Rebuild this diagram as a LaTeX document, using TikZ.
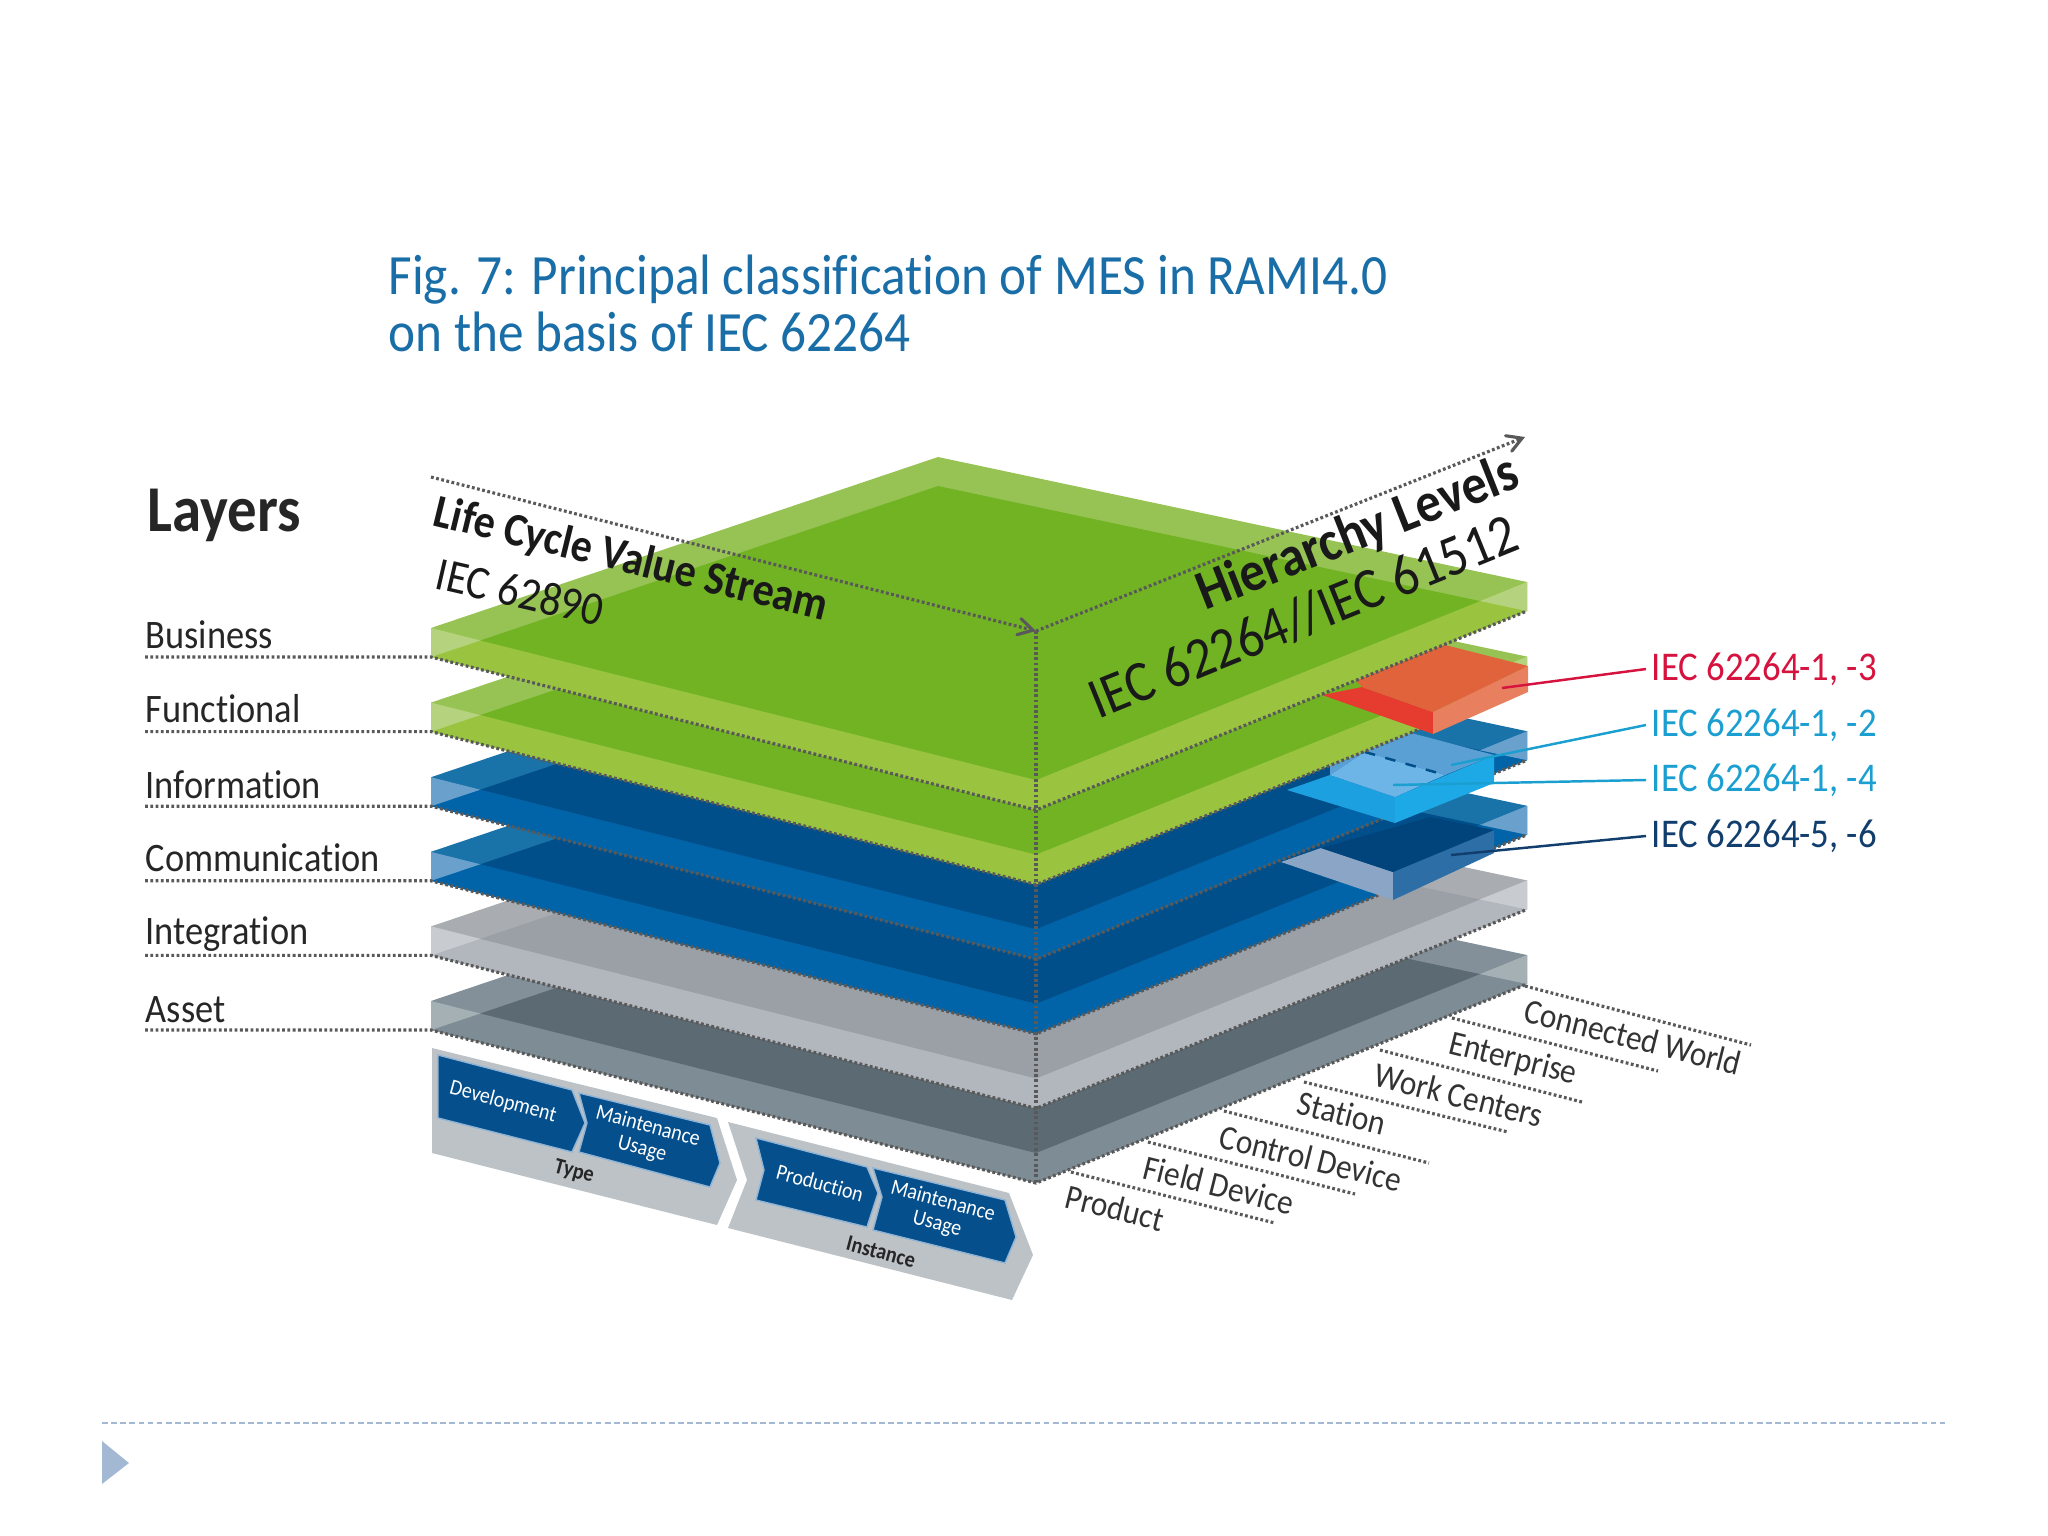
\documentclass[tikz,border=0pt]{standalone}
\usepackage{fontspec}
\setmainfont{Carlito}[FakeStretch=0.9, Ligatures=NoCommon]
\usetikzlibrary{arrows}

\definecolor{greenback}{HTML}{97C355}
\definecolor{greenfront}{HTML}{9AC43F}
\definecolor{greendark}{HTML}{72B324}
\definecolor{greentip}{HTML}{B5D37F}
\definecolor{blueback}{HTML}{1A73A8}
\definecolor{bluefront}{HTML}{0264A8}
\definecolor{bluedark}{HTML}{014F8A}
\definecolor{bluetip}{HTML}{6AA1CC}
\definecolor{grayback}{HTML}{A9ADB2}
\definecolor{grayfront}{HTML}{B2B7BE}
\definecolor{graydark}{HTML}{9AA0A6}
\definecolor{graytip}{HTML}{C8CCD0}
\definecolor{assetback}{HTML}{83909A}
\definecolor{assetfront}{HTML}{7E8D95}
\definecolor{assetdark}{HTML}{5C6B73}
\definecolor{assettip}{HTML}{A5B0B5}
\definecolor{titleblue}{HTML}{1A6EA8}
\definecolor{phase}{HTML}{054F8C}
\definecolor{phaseedge}{HTML}{8FB4D6}
\definecolor{phasebase}{HTML}{BCC2C6}
\definecolor{navyleft}{HTML}{8BA5C6}
\definecolor{navyright}{HTML}{2E6EA6}
\definecolor{navytop}{HTML}{01447C}
\definecolor{skyleft}{HTML}{1CA0DF}
\definecolor{skyright}{HTML}{1DA8E6}
\definecolor{skyback}{HTML}{5BA0D4}
\definecolor{skyfront}{HTML}{6DB5E6}
\definecolor{redleft}{HTML}{E63C2F}
\definecolor{redright}{HTML}{E88060}
\definecolor{redtop}{HTML}{E0633B}
\definecolor{stdred}{HTML}{D6123E}
\definecolor{stdsky}{HTML}{1A9FD0}
\definecolor{stdnavy}{HTML}{123E6E}
\definecolor{footer}{HTML}{A3B8D2}

\tikzstyle{dotline}    = [draw=black!65, line width=0.9pt, dash pattern=on 0.8pt off 0.7pt]
\tikzstyle{layername}  = [anchor=west, inner sep=0pt, font=\fontsize{11.5}{13}\selectfont, text=black!85]
\tikzstyle{levelname}  = [inner sep=0pt, rotate=-14, font=\fontsize{9.9}{12}\selectfont, text=black!80]
\tikzstyle{stdname}    = [anchor=west, inner sep=0pt, outer sep=1.7pt, font=\fontsize{11.6}{13}\selectfont]
\tikzstyle{axisname}   = [anchor=base west, inner sep=0pt, font=\bfseries\fontsize{13.3}{15}\selectfont, text=black!90]
\tikzstyle{axisstd}    = [anchor=base west, inner sep=0pt, font=\fontsize{13.4}{15}\selectfont, text=black!90]
\tikzstyle{phasebox}   = [fill=phase, draw=phaseedge, line width=0.4pt]
\tikzstyle{phasename}  = [inner sep=0pt, rotate=-15, align=center, text=white, font=\fontsize{6.3}{6.6}\selectfont]
\tikzstyle{basename}   = [inner sep=0pt, rotate=-15, text=black!85, font=\bfseries\fontsize{6.4}{7}\selectfont]

% one translucent plate: #1 offset, #2 back, #3 front, #4 inner, #5 corners, #6 label
\newcommand{\layerplate}[6]{
\begin{scope}[shift={(0,#1)}]
\coordinate (Lt) at (431,628);
\coordinate (Bt) at (938,457);
\coordinate (Rt) at (1527,582);
\coordinate (Ft) at (1036,780);
\coordinate (Lb) at (431,657);
\coordinate (Bb) at (938,486);
\coordinate (Rb) at (1527,611);
\coordinate (Fb) at (1036,810);
\coordinate (Xl) at (intersection of Lb--Bb and Lt--Ft);
\coordinate (Xr) at (intersection of Rb--Bb and Rt--Ft);
\fill [#2] (Lt) -- (Bt) -- (Rt) -- (Rb) -- (Fb) -- (Lb) -- cycle;
\fill [#3] (Lt) -- (Ft) -- (Rt) -- (Rb) -- (Fb) -- (Lb) -- cycle;
\fill [#4] (Bb) -- (Xl) -- (Ft) -- (Xr) -- cycle;
\fill [#5] (Lt) -- (Xl) -- (Lb) -- cycle;
\fill [#5] (Rt) -- (Xr) -- (Rb) -- cycle;
\draw [dotline] (#6.west |- Lb) -- (Lb) -- (Fb) -- (Rb);
\end{scope}
}

\begin{document}
\begin{tikzpicture}[x=0.01cm, y=-0.01cm]
\useasboundingbox (0,0) rectangle (2048,1536);

% title
\node [anchor=west, inner sep=0pt, align=left, text=titleblue,
       font=\fontsize{16.2}{16.2}\selectfont] (title) at (388,303)
      {Fig. 7: Principal classification of MES in RAMI4.0\\on the basis of IEC 62264};

% layer names
\node [anchor=west, inner sep=0pt, font=\bfseries\fontsize{18.6}{20}\selectfont, text=black!85] (layers) at (147,515) {Layers};
\node [layername] (business)      at (145,635) {Business};
\node [layername] (functional)    at (145,709) {Functional};
\node [layername] (information)   at (145,785) {Information};
\node [layername] (communication) at (145,858) {Communication};
\node [layername] (integration)   at (145,934) {Integration};
\node [layername] (asset)         at (145,1010) {Asset};

% level lines
\coordinate (prodA)  at (1071,1172); \coordinate (prodB)  at (1275,1223);
\coordinate (fieldA) at (1148,1142); \coordinate (fieldB) at (1355,1194);
\coordinate (ctrlA)  at (1224,1111); \coordinate (ctrlB)  at (1429,1163);
\coordinate (statA)  at (1304,1082); \coordinate (statB)  at (1508,1132);
\coordinate (workA)  at (1380,1050); \coordinate (workB)  at (1582,1102);
\coordinate (entA)   at (1452,1018); \coordinate (entB)   at (1658,1071);
\coordinate (connA)  at (1525,986);  \coordinate (connB)  at (1751,1045);
\foreach \a/\b in {prodA/prodB, fieldA/fieldB, ctrlA/ctrlB, statA/statB, workA/workB, entA/entB, connA/connB}
  \draw [dotline] (\a) -- (\b);

% plates, bottom one first
\layerplate{373}{assetback}{assetfront}{assetdark}{assettip}{asset}
\layerplate{298.4}{grayback}{grayfront}{graydark}{graytip}{integration}
\layerplate{223.8}{blueback}{bluefront}{bluedark}{bluetip}{communication}

% box on communication
\fill [fill=navyleft]  (1281,862) -- (1321,848) -- (1393,872) -- (1393,900) -- cycle;
\fill [fill=navyright] (1393,872) -- (1494,830) -- (1494,853) -- (1393,900) -- cycle;
\fill [fill=navytop]   (1321,848) -- (1430,817) -- (1494,830) -- (1393,872) -- cycle;

\layerplate{149.2}{blueback}{bluefront}{bluedark}{bluetip}{information}

% box on information
\fill [fill=skyleft]  (1287,790) -- (1330,775) -- (1395,797) -- (1395,823) -- cycle;
\fill [fill=skyright] (1395,797) -- (1494,755) -- (1494,783) -- (1395,823) -- cycle;
\fill [fill=skyback]  (1330,775) -- (1330,750) -- (1400,730) -- (1494,755) -- (1445,775) -- (1365,752) -- cycle;
\fill [fill=skyfront] (1330,775) -- (1365,752) -- (1445,775) -- (1395,797) -- cycle;
\coordinate (skyA) at (1365,752);
\coordinate (skyB) at (1445,775);
\draw [draw=bluedark, line width=0.7pt, dashed] (skyA) -- (skyB);

\layerplate{74.6}{greenback}{greenfront}{greendark}{greentip}{functional}

% box on functional
\fill [fill=redleft]  (1322,695) -- (1362,687) -- (1433,712) -- (1433,734) -- cycle;
\fill [fill=redright] (1433,712) -- (1528,666) -- (1528,692) -- (1433,734) -- cycle;
\fill [fill=redtop]   (1362,687) -- (1340,665) -- (1445,645) -- (1528,666) -- (1433,712) -- cycle;

\layerplate{0}{greenback}{greenfront}{greendark}{greentip}{business}

% axes
\coordinate (corner)   at (1036,631);
\coordinate (lifeend)  at (431,477);
\coordinate (hierend)  at (1525,437);
\coordinate (downend)  at (1036,1183);
\draw [dotline, -angle 60] (lifeend) -- (corner);
\draw [dotline, -angle 60] (corner) -- (hierend);
\draw [dotline] (corner) -- (downend);

% axis names
\node [axisname, rotate=-13.7] (lifename) at (431,525) {Life Cycle Value Stream};
\node [axisstd,  rotate=-13]   (lifestd)  at (433,588) {IEC 62890};
\node [axisname, rotate=21.5, font=\bfseries\fontsize{16}{18}\selectfont] (hiername) at (1205,611) {Hierarchy Levels};
\node [axisstd,  rotate=22, font=\fontsize{16.5}{18}\selectfont]  (hierstd)  at (1098,720) {IEC 62264/\kern-0.06em/IEC 61512};

% level names
\node [levelname] (product)  at (1115,1208) {Product};
\node [levelname] (fielddev) at (1219,1185) {Field Device};
\node [levelname] (ctrldev)  at (1311,1158) {Control Device};
\node [levelname] (station)  at (1342,1113) {Station};
\node [levelname] (workc)    at (1459,1095) {Work Centers};
\node [levelname] (enterp)   at (1513,1060) {Enterprise};
\node [levelname] (connw)    at (1633,1037) {Connected World};

% standards with their leader lines
\node [stdname, text=stdred]  (std13) at (1646,669) {IEC 62264-1, -3};
\node [stdname, text=stdsky]  (std12) at (1646,725) {IEC 62264-1, -2};
\node [stdname, text=stdsky]  (std14) at (1646,780) {IEC 62264-1, -4};
\node [stdname, text=stdnavy] (std56) at (1646,836) {IEC 62264-5, -6};
\coordinate (boxred)  at (1502,688);
\coordinate (boxsky)  at (1451,765);
\coordinate (boxsky2) at (1393,785);
\coordinate (boxnavy) at (1451,855);
\draw [draw=stdred,  line width=0.7pt] (boxred)  -- (std13.west);
\draw [draw=stdsky,  line width=0.7pt] (boxsky)  -- (std12.west);
\draw [draw=stdsky,  line width=0.7pt] (boxsky2) -- (std14.west);
\draw [draw=stdnavy, line width=0.7pt] (boxnavy) -- (std56.west);

% type and instance bands
\fill [phasebase] (432,1048) -- (717,1118) -- (737,1180) -- (717,1225) -- (432,1153) -- cycle;
\fill [phasebase] (728,1122) -- (1009,1193) -- (1033,1255) -- (1012,1300) -- (728,1228) -- (747,1180) -- cycle;
\path [phasebox] (438,1055) -- (572,1090) -- (585,1123) -- (572,1152) -- (438,1118) -- cycle;
\path [phasebox] (579,1093) -- (710,1125) -- (720,1163) -- (710,1187) -- (579,1152) -- (587,1123) -- cycle;
\path [phasebox] (756,1138) -- (867,1167) -- (878,1193) -- (867,1227) -- (756,1200) -- (764,1170) -- cycle;
\path [phasebox] (873,1168) -- (1005,1200) -- (1016,1237) -- (1005,1263) -- (873,1230) -- (882,1197) -- cycle;
\node [phasename] (develop) at (503,1102) {Development};
\node [phasename] (maint)   at (645,1138) {Maintenance\\Usage};
\node [phasename] (prodn)   at (820,1183) {Production};
\node [phasename] (maintb)  at (940,1213) {Maintenance\\Usage};
\node [basename]  (typ)     at (574,1172) {Type};
\node [basename]  (inst)    at (881,1252) {Instance};

% slide footer
\coordinate (ruleA) at (102,1423);
\coordinate (ruleB) at (1946,1423);
\draw [draw=footer, line width=0.5pt, dash pattern=on 1.6pt off 1pt] (ruleA) -- (ruleB);
\fill [footer] (102,1441) -- (129,1463) -- (102,1484) -- cycle;

\end{tikzpicture}
\end{document}
